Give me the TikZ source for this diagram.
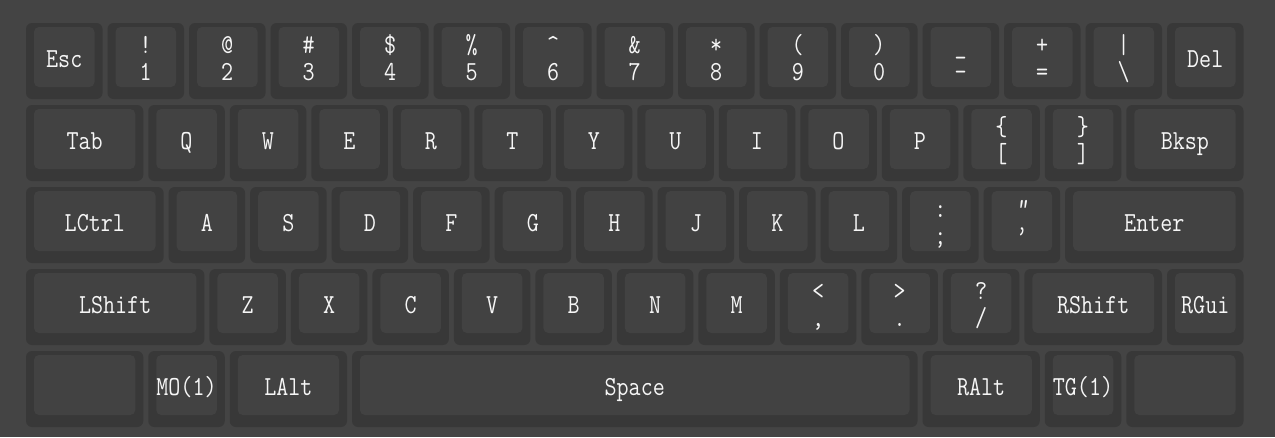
\documentclass[tikz,border=0pt]{standalone}
\usepackage{graphicx}
\definecolor{bgc}{HTML}{444444}
\definecolor{outc}{HTML}{383838}
\definecolor{inc}{HTML}{424242}
\definecolor{txc}{HTML}{F6F6F6}
\tikzset{
  outerkey/.style={fill=outc, rounded corners=6pt, inner sep=0pt, outer sep=0pt, minimum height=76pt, anchor=north west},
  innerkey/.style={fill=inc, rounded corners=5pt, inner sep=0pt, outer sep=0pt, minimum height=60pt, anchor=north west},
  lbl/.style={text=txc, font=\fontsize{27.5}{27.5}\selectfont\ttfamily, inner sep=0pt, outer sep=0pt, anchor=base}
}
\newcommand\kt[1]{\scalebox{0.85}[1]{#1}}
% #1 name, #2 x (units), #3 row, #4 width (units), #5 top/single label, #6 bottom label
\newcommand\kcap[6]{%
  \pgfmathsetmacro\kx{26+#2*81.5}%
  \pgfmathsetmacro\ky{23+#3*82}%
  \pgfmathsetmacro\kw{#4*81.5-5}%
  \pgfmathsetmacro\kiw{\kw-16}%
  \pgfmathsetmacro\kcx{\kx+\kw/2}%
  \node[outerkey, minimum width=\kw pt] (#1) at (\kx,\ky) {};
  \node[innerkey, minimum width=\kiw pt] (#1-cap) at (\kx+8,\ky+4) {};
  \if\relax\detokenize{#6}\relax
    \node[lbl] (#1-t) at (\kcx,\ky+44) {\kt{#5}};
  \else
    \node[lbl] (#1-t) at (\kcx,\ky+30) {\kt{#5}};
    \node[lbl] (#1-b) at (\kcx,\ky+57) {\kt{#6}};
  \fi
}
\begin{document}
\begin{tikzpicture}[x=1pt,y=-1pt]
\fill[bgc] (0,0) rectangle (1275,437);
\useasboundingbox (0,0) rectangle (1275,437);
% row 0
\kcap{esc}{0}{0}{1}{Esc}{}
\kcap{n1}{1}{0}{1}{!}{1}
\kcap{n2}{2}{0}{1}{@}{2}
\kcap{n3}{3}{0}{1}{\#}{3}
\kcap{n4}{4}{0}{1}{\$}{4}
\kcap{n5}{5}{0}{1}{\%}{5}
\kcap{n6}{6}{0}{1}{\textasciicircum}{6}
\kcap{n7}{7}{0}{1}{\&}{7}
\kcap{n8}{8}{0}{1}{*}{8}
\kcap{n9}{9}{0}{1}{(}{9}
\kcap{n0}{10}{0}{1}{)}{0}
\kcap{minus}{11}{0}{1}{\_}{-}
\kcap{equal}{12}{0}{1}{+}{=}
\kcap{bslash}{13}{0}{1}{|}{\textbackslash}
\kcap{del}{14}{0}{1}{Del}{}
% row 1
\kcap{tab}{0}{1}{1.5}{Tab}{}
\kcap{q}{1.5}{1}{1}{Q}{}
\kcap{w}{2.5}{1}{1}{W}{}
\kcap{e}{3.5}{1}{1}{E}{}
\kcap{r}{4.5}{1}{1}{R}{}
\kcap{t}{5.5}{1}{1}{T}{}
\kcap{y}{6.5}{1}{1}{Y}{}
\kcap{u}{7.5}{1}{1}{U}{}
\kcap{i}{8.5}{1}{1}{I}{}
\kcap{o}{9.5}{1}{1}{O}{}
\kcap{p}{10.5}{1}{1}{P}{}
\kcap{lbr}{11.5}{1}{1}{\{}{[}
\kcap{rbr}{12.5}{1}{1}{\}}{]}
\kcap{bksp}{13.5}{1}{1.5}{Bksp}{}
% row 2
\kcap{lctrl}{0}{2}{1.75}{LCtrl}{}
\kcap{a}{1.75}{2}{1}{A}{}
\kcap{s}{2.75}{2}{1}{S}{}
\kcap{d}{3.75}{2}{1}{D}{}
\kcap{f}{4.75}{2}{1}{F}{}
\kcap{g}{5.75}{2}{1}{G}{}
\kcap{h}{6.75}{2}{1}{H}{}
\kcap{j}{7.75}{2}{1}{J}{}
\kcap{k}{8.75}{2}{1}{K}{}
\kcap{l}{9.75}{2}{1}{L}{}
\kcap{semi}{10.75}{2}{1}{:}{;}
\kcap{quote}{11.75}{2}{1}{{\slshape"}}{’}
\kcap{enter}{12.75}{2}{2.25}{Enter}{}
% row 3
\kcap{lshift}{0}{3}{2.25}{LShift}{}
\kcap{z}{2.25}{3}{1}{Z}{}
\kcap{x}{3.25}{3}{1}{X}{}
\kcap{c}{4.25}{3}{1}{C}{}
\kcap{v}{5.25}{3}{1}{V}{}
\kcap{b}{6.25}{3}{1}{B}{}
\kcap{n}{7.25}{3}{1}{N}{}
\kcap{m}{8.25}{3}{1}{M}{}
\kcap{comma}{9.25}{3}{1}{<}{,}
\kcap{dot}{10.25}{3}{1}{>}{.}
\kcap{slash}{11.25}{3}{1}{?}{/}
\kcap{rshift}{12.25}{3}{1.75}{RShift}{}
\kcap{rgui}{14}{3}{1}{RGui}{}
% row 4
\kcap{blankl}{0}{4}{1.5}{}{}
\kcap{mo}{1.5}{4}{1}{MO(1)}{}
\kcap{lalt}{2.5}{4}{1.5}{LAlt}{}
\kcap{space}{4}{4}{7}{Space}{}
\kcap{ralt}{11}{4}{1.5}{RAlt}{}
\kcap{tg}{12.5}{4}{1}{TG(1)}{}
\kcap{blankr}{13.5}{4}{1.5}{}{}
\end{tikzpicture}
\end{document}
